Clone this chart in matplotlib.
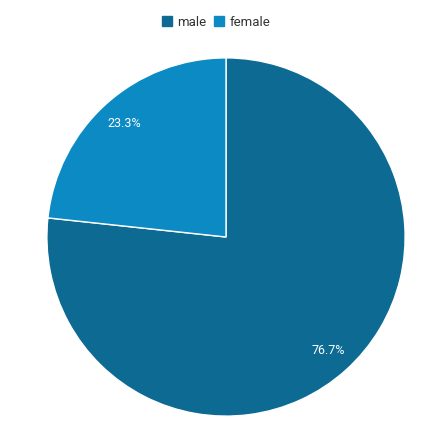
import matplotlib
matplotlib.use("Agg")
import matplotlib.pyplot as plt
from matplotlib.patches import Patch

labels = ["male", "female"]
values = [76.7, 23.3]
colors = ["#0c6a93", "#0b8ac4"]

fig = plt.figure(figsize=(4.42, 4.42), dpi=100)
ax = fig.add_axes([46/442, 25/442, 360/442, 360/442])
wedges, texts, autotexts = ax.pie(
    values, colors=colors, startangle=90, counterclock=False,
    autopct="%.1f%%", pctdistance=0.85,
    wedgeprops=dict(edgecolor="white", linewidth=1.0),
    textprops=dict(color="white", fontsize=9, family="Roboto"))
ax.set_xlim(-1.005, 1.005)
ax.set_ylim(-1.005, 1.005)
ax.set_aspect("equal")

handles = [Patch(facecolor=c, edgecolor=c) for c in colors]
leg = fig.legend(handles, labels, loc="center", bbox_to_anchor=(216/442, 1 - 22/442),
           ncol=2, frameon=False, handlelength=0.75, handleheight=0.75,
           handletextpad=0.4, columnspacing=0.6, prop=dict(family="Roboto", size=9.5))
for t in leg.get_texts():
    t.set_color("#333333")

fig.savefig("out.png", dpi=100)
